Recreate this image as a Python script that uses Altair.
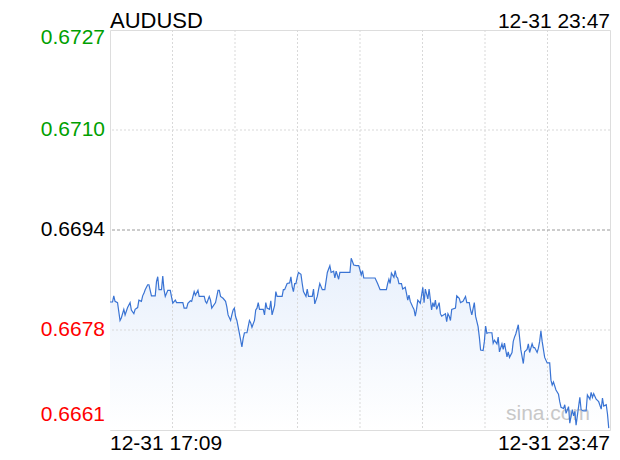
import altair as alt
import pandas as pd

# minutes after 12-31 17:09
minutes = [0, 2, 3, 4, 6, 8, 9, 11, 12, 14, 16, 17, 19, 20, 22, 23, 25, 26, 27, 28, 30, 31, 33, 36, 37, 38, 39, 41, 42, 43,
           44, 46, 48, 49, 50, 52, 53, 58, 59, 61, 62, 64, 65, 67, 68, 70, 71, 75, 76, 77, 79, 80, 81, 84, 86, 87, 88, 90, 92, 93,
           94, 96, 97, 98, 99, 100, 101, 103, 105, 106, 107, 109, 111, 112, 113, 115, 116, 117, 118, 119, 122, 123, 124, 125, 127, 128, 129, 131, 132, 133,
           137, 138, 139, 141, 143, 144, 145, 146, 147, 148, 149, 150, 152, 153, 154, 156, 157, 158, 161, 162, 163, 165, 166, 167, 169, 171, 173, 175, 176, 178,
           179, 180, 182, 183, 185, 191, 192, 194, 196, 198, 199, 200, 201, 202, 211, 213, 215, 220, 221, 222, 223, 224, 226, 227, 228, 229, 230, 232, 233, 235,
           236, 237, 238, 239, 241, 242, 243, 244, 245, 247, 248, 249, 250, 251, 253, 254, 256, 257, 258, 259, 260, 262, 263, 264, 267, 268, 269, 270, 271, 272,
           275, 276, 278, 279, 281, 283, 284, 286, 287, 288, 290, 291, 293, 294, 295, 297, 298, 299, 300, 301, 304, 305, 306, 308, 309, 310, 312, 313, 314, 316,
           317, 318, 320, 321, 322, 323, 325, 326, 327, 329, 330, 332, 333, 334, 336, 337, 338, 340, 341, 342, 343, 344, 346, 348, 350, 351, 352, 353, 355, 357,
           358, 359, 361, 362, 363, 365, 366, 368, 369, 370, 371, 373, 374, 375, 377, 379, 380, 382, 383, 384, 385, 387, 389, 391, 392, 393, 395, 396, 397]

prices = [0.66823, 0.66823, 0.66833, 0.66824, 0.66822, 0.66793, 0.66797, 0.66811, 0.66802, 0.66814, 0.66822, 0.66810, 0.66804, 0.66811, 0.66814,
          0.66826, 0.66824, 0.66833, 0.66837, 0.66843, 0.66851, 0.66851, 0.66833, 0.66833, 0.66856, 0.66864, 0.66843, 0.66843, 0.66865, 0.66843,
          0.66832, 0.66842, 0.66842, 0.66831, 0.66821, 0.66826, 0.66822, 0.66822, 0.66813, 0.66813, 0.66821, 0.66825, 0.66824, 0.66840, 0.66834,
          0.66842, 0.66832, 0.66832, 0.66824, 0.66821, 0.66832, 0.66826, 0.66813, 0.66822, 0.66842, 0.66842, 0.66832, 0.66829, 0.66824, 0.66815,
          0.66802, 0.66793, 0.66802, 0.66810, 0.66813, 0.66799, 0.66793, 0.66772, 0.66750, 0.66764, 0.66773, 0.66773, 0.66793, 0.66789, 0.66782,
          0.66793, 0.66810, 0.66813, 0.66822, 0.66811, 0.66811, 0.66802, 0.66822, 0.66813, 0.66811, 0.66825, 0.66802, 0.66817, 0.66840, 0.66832,
          0.66832, 0.66843, 0.66843, 0.66853, 0.66854, 0.66864, 0.66848, 0.66840, 0.66853, 0.66853, 0.66863, 0.66871, 0.66868, 0.66853, 0.66840,
          0.66832, 0.66844, 0.66832, 0.66832, 0.66844, 0.66820, 0.66832, 0.66843, 0.66853, 0.66843, 0.66843, 0.66871, 0.66882, 0.66871, 0.66873,
          0.66862, 0.66873, 0.66860, 0.66871, 0.66871, 0.66871, 0.66894, 0.66883, 0.66882, 0.66882, 0.66875, 0.66867, 0.66874, 0.66862, 0.66862,
          0.66853, 0.66843, 0.66843, 0.66853, 0.66860, 0.66853, 0.66870, 0.66863, 0.66874, 0.66864, 0.66862, 0.66853, 0.66853, 0.66844, 0.66847,
          0.66837, 0.66826, 0.66834, 0.66824, 0.66815, 0.66811, 0.66800, 0.66811, 0.66826, 0.66821, 0.66834, 0.66847, 0.66822, 0.66844, 0.66828,
          0.66844, 0.66810, 0.66822, 0.66815, 0.66826, 0.66811, 0.66822, 0.66804, 0.66800, 0.66804, 0.66791, 0.66804, 0.66800, 0.66793, 0.66811,
          0.66813, 0.66833, 0.66829, 0.66822, 0.66824, 0.66832, 0.66822, 0.66822, 0.66810, 0.66802, 0.66822, 0.66800, 0.66783, 0.66766, 0.66745,
          0.66744, 0.66759, 0.66784, 0.66772, 0.66773, 0.66773, 0.66756, 0.66761, 0.66755, 0.66766, 0.66742, 0.66755, 0.66746, 0.66756, 0.66734,
          0.66742, 0.66733, 0.66741, 0.66759, 0.66766, 0.66771, 0.66786, 0.66766, 0.66746, 0.66723, 0.66742, 0.66746, 0.66755, 0.66741, 0.66755,
          0.66749, 0.66749, 0.66741, 0.66748, 0.66759, 0.66776, 0.66759, 0.66733, 0.66724, 0.66724, 0.66696, 0.66688, 0.66693, 0.66680, 0.66673,
          0.66661, 0.66652, 0.66650, 0.66656, 0.66642, 0.66653, 0.66626, 0.66648, 0.66638, 0.66645, 0.66623, 0.66653, 0.66668, 0.66648, 0.66646,
          0.66646, 0.66672, 0.66665, 0.66676, 0.66668, 0.66674, 0.66665, 0.66661, 0.66649, 0.66667, 0.66654, 0.66656, 0.66641, 0.66618]

# y tick values (top to bottom) and their labels / colours
y_ticks = [0.67265, 0.671025, 0.6694, 0.667775, 0.66615]
y_tick_labels = ["0.6727", "0.6710", "0.6694", "0.6678", "0.6661"]
y_tick_colors = ["#00a000", "#00a000", "#000000", "#ff0000", "#ff0000"]
x_ticks = [0, 398]
x_tick_labels = ["12-31 17:09", "12-31 23:47"]
x_grid = [49.75, 99.5, 149.25, 199, 248.75, 298.5, 348.25]
h_grid = [0.667775, 0.671025]
prev_close = [0.6694]
symbol = ["AUDUSD"]
last_time = ["12-31 23:47"]
watermark = ["sina.com"]

FONT = "Liberation Sans"
df = pd.DataFrame({"minute": minutes, "price": prices})

xscale = alt.Scale(domain=[x_ticks[0], x_ticks[-1]], nice=False, zero=False)
yscale = alt.Scale(domain=[y_ticks[-1], y_ticks[0]], nice=False, zero=False)

base = alt.Chart(df)

area = base.mark_area(
    color=alt.Gradient(gradient="linear",
                       stops=[alt.GradientStop(color="#e8f0fc", offset=0),
                              alt.GradientStop(color="#ffffff", offset=1)],
                       x1=0, x2=0, y1=0, y2=1)
).encode(
    x=alt.X("minute:Q", scale=xscale, axis=None),
    y=alt.Y("price:Q", scale=yscale, axis=None),
    y2=alt.datum(y_ticks[-1]),
)

vgrid = alt.Chart(pd.DataFrame({"g": x_grid})).mark_rule(color="#d9d9d9", strokeDash=[2, 2], strokeWidth=1).encode(
    x=alt.X("g:Q", scale=xscale, axis=None))
hgrid = alt.Chart(pd.DataFrame({"h": h_grid})).mark_rule(color="#d9d9d9", strokeDash=[2, 2], strokeWidth=1).encode(
    y=alt.Y("h:Q", scale=yscale, axis=None))
mid = alt.Chart(pd.DataFrame({"h": prev_close})).mark_rule(color="#9a9a9a", strokeDash=[3, 2], strokeWidth=1).encode(
    y=alt.Y("h:Q", scale=yscale, axis=None))

wm = alt.Chart(pd.DataFrame({"t": watermark})).mark_text(
    align="left", baseline="alphabetic", fontSize=21, font=FONT, color="#c8c8c8"
).encode(text="t:N", x=alt.value(396), y=alt.value(390))

line = base.mark_line(color="#3a74d4", strokeWidth=1.2).encode(
    x=alt.X("minute:Q", scale=xscale, axis=None),
    y=alt.Y("price:Q", scale=yscale, axis=None),
)

# y-axis labels (drawn as text at the tick values)
def ylab(rows, dy):
    d = pd.DataFrame({"v": [y_ticks[i] for i in rows],
                      "lab": [y_tick_labels[i] for i in rows],
                      "c": [y_tick_colors[i] for i in rows]})
    return alt.Chart(d).mark_text(align="right", baseline="middle", fontSize=21, font=FONT, dy=dy).encode(
        text="lab:N", x=alt.value(-5), y=alt.Y("v:Q", scale=yscale, axis=None),
        color=alt.Color("c:N", scale=None))

ylab_top = ylab([0], 8)
ylab_mid = ylab([1, 2, 3], 0)
ylab_bot = ylab([4], -15)

# x-axis labels
xlab_left = alt.Chart(pd.DataFrame({"m": x_ticks[:1], "lab": x_tick_labels[:1]})).mark_text(
    align="left", baseline="middle", fontSize=21, font=FONT, color="#000000"
).encode(text="lab:N", x=alt.X("m:Q", scale=xscale, axis=None), y=alt.value(414))
xlab_right = alt.Chart(pd.DataFrame({"m": x_ticks[1:], "lab": x_tick_labels[1:]})).mark_text(
    align="right", baseline="middle", fontSize=21, font=FONT, color="#000000"
).encode(text="lab:N", x=alt.X("m:Q", scale=xscale, axis=None), y=alt.value(414))

title = alt.Chart(pd.DataFrame({"t": symbol})).mark_text(
    align="left", baseline="alphabetic", fontSize=22, font=FONT, color="#000000"
).encode(text="t:N", x=alt.value(0), y=alt.value(-2))

tlast = alt.Chart(pd.DataFrame({"t": last_time})).mark_text(
    align="right", baseline="alphabetic", fontSize=21, font=FONT, color="#000000"
).encode(text="t:N", x=alt.value(500), y=alt.value(-2))

chart = alt.layer(area, vgrid, hgrid, mid, wm, line, ylab_top, ylab_mid, ylab_bot,
                  xlab_left, xlab_right, title, tlast).properties(
    width=500, height=400,
    autosize=alt.AutoSizeParams(type="none"),
    padding={"left": 102, "top": 22, "right": 2, "bottom": 29},
).configure_view(stroke="#cccccc", strokeWidth=1).configure(background="#ffffff")

chart.save("out.html", embed_options={"renderer": "svg", "actions": False})
